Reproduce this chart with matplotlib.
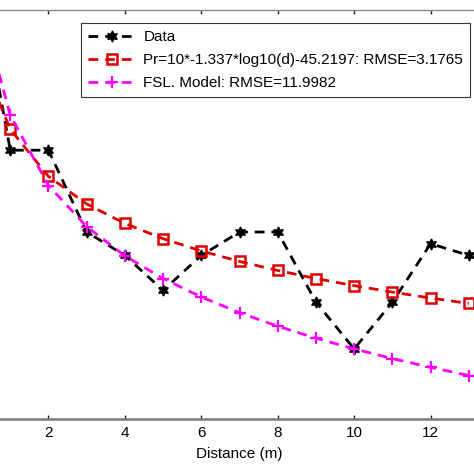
import numpy as np
import matplotlib
matplotlib.use("Agg")
import matplotlib.pyplot as plt

plt.rcParams['font.family'] = ['Liberation Sans', 'DejaVu Sans']

# ---------------- DATA ----------------
distance = [0.5, 1, 2, 3, 4, 5, 6, 7, 8, 9, 10, 11, 12, 13]
data_rssi = [-38, -47, -47, -54, -56, -59, -56, -54, -54, -60, -64, -60, -55, -56]
fit_rssi = [-41.20, -45.22, -49.24, -51.60, -53.27, -54.57, -55.62, -56.52,
            -57.29, -57.98, -58.59, -59.14, -59.65, -60.11]
fsl_rssi = [-37.98, -44.00, -50.02, -53.54, -56.04, -57.98, -59.56, -60.90,
            -62.06, -63.08, -64.00, -64.83, -65.58, -66.28]
x_ticks = [2, 4, 6, 8, 10, 12]

labels = ["Data",
          "Pr=10*-1.337*log10(d)-45.2197: RMSE=3.1765",
          "FSL. Model: RMSE=11.9982"]

# ---------------- PLOT ----------------
fig = plt.figure(figsize=(4.74, 4.74), dpi=100)
# the picture is a crop of a bigger figure: axes run past left/right edges
ax = fig.add_axes([-0.059, 0.116, 1.1287, 0.863])

dash = (0, (3.5, 2.5))
ax.plot(distance, data_rssi, color='black', linestyle=dash, linewidth=2,
        marker=(6, 1, 0), markersize=8, markerfacecolor='black',
        markeredgecolor='black', label=labels[0])
ax.plot(distance, fit_rssi, color='#e00000', linestyle=dash, linewidth=2,
        marker='s', markersize=7, markerfacecolor='none',
        markeredgecolor='#e00000', markeredgewidth=1.8, label=labels[1])
ax.plot(distance, fsl_rssi, color='#ff00ff', linestyle=dash, linewidth=2,
        marker='+', markersize=9, markeredgewidth=1.6,
        label=labels[2])

ax.set_xlim(0, 14)
ax.set_ylim(-70, -35)
ax.set_xticks(x_ticks)
ax.set_yticks([])
ax.tick_params(axis='x', direction='in', length=3, width=1, colors='#222222',
               top=True, labelsize=11, pad=5)
ax.tick_params(axis='x', labelcolor='black')
ax.set_xlabel('Distance (m)', fontsize=11, labelpad=5)

ax.spines['bottom'].set_color('#7a7a7a')
ax.spines['bottom'].set_linewidth(1.8)
ax.spines['top'].set_color('#8a8a8a')
ax.spines['top'].set_linewidth(1.0)

leg = ax.legend(loc='upper right', bbox_to_anchor=(0.9916, 0.9515),
                bbox_transform=fig.transFigure, borderaxespad=0,
                fontsize=11, handlelength=3.1, handletextpad=0.52,
                labelspacing=0.6, fancybox=False, framealpha=1,
                borderpad=0.45)
leg.get_frame().set_edgecolor('#333333')
leg.get_frame().set_linewidth(0.8)

fig.savefig('out.png', dpi=100)
